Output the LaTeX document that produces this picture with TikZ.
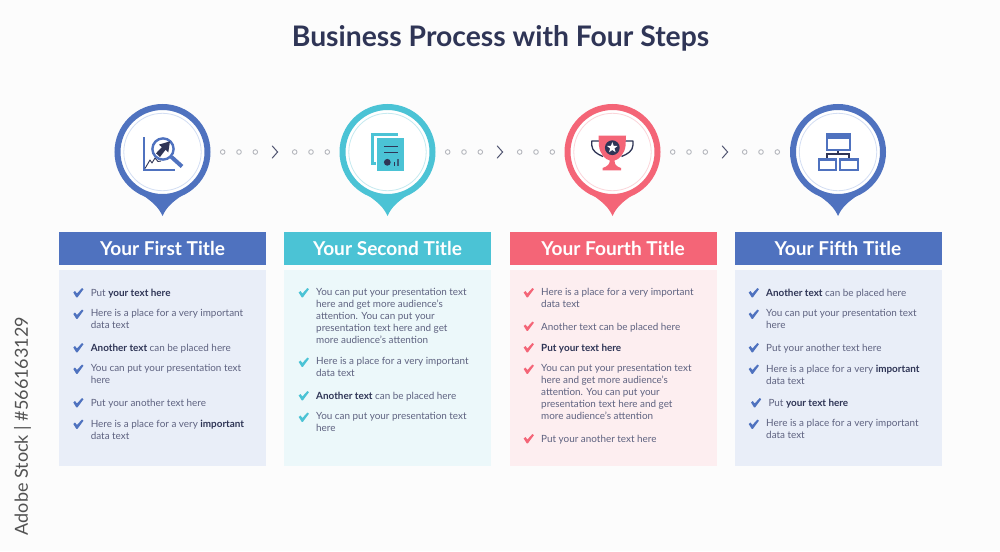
\documentclass[tikz,border=0pt]{standalone}
\usepackage{fontspec}
\setmainfont{Lato}
\usetikzlibrary{calc,shapes.geometric}
\definecolor{cblue}{HTML}{4F72BF}
\definecolor{cteal}{HTML}{4BC3D5}
\definecolor{cred}{HTML}{F46577}
\definecolor{bblue}{HTML}{E9EEF8}
\definecolor{bteal}{HTML}{ECF8FA}
\definecolor{bred}{HTML}{FDEEF0}
\definecolor{rblue}{HTML}{D3DEF3}
\definecolor{rteal}{HTML}{C5EAF0}
\definecolor{rred}{HTML}{FBD5DA}
\definecolor{cdark}{HTML}{2F3556}
\definecolor{cgray}{HTML}{5E6280}
\definecolor{cdot}{HTML}{B5B7BD}
\tikzset{
  x=1pt,y=-1pt,
  headbox/.style={fill=#1,minimum width=207pt,minimum height=33pt,inner sep=0pt,text=white,font=\fontsize{19.1}{21}\selectfont\bfseries},
  bodybox/.style={fill=#1,minimum width=207pt,minimum height=196pt,inner sep=0pt},
  itemtext/.style={anchor=north west,inner sep=0pt,align=left,text=cgray,font=\fontsize{9.9}{12}\selectfont,execute at begin node=\strut},
  dotmark/.style={circle,draw=cdot,line width=0.9pt,fill=white,minimum size=4.6pt,inner sep=0pt},
  chevronline/.style={draw=cdark!85,line width=1pt,line cap=round,line join=miter},
}
\newcommand{\strongtxt}[1]{\textbf{\textcolor{cdark}{#1}}}
% \chkitem{name}{colour}{x}{y centre of first line}{text}
\newcommand{\chkitem}[5]{%
  \fill[#2] (#3-18,#4-0.5) -- (#3-16.3,#4-2) -- (#3-14.3,#4+0.5) -- (#3-9.3,#4-5) -- (#3-7.8,#4-3.8) -- (#3-13.8,#4+4.3) -- (#3-15,#4+4.3) -- cycle;
  \node[itemtext] (#1) at (#3-0.7,#4-5) {#5};
}
% \pin{name}{x}{ring}{thin ring}
\newcommand{\pin}[4]{%
  \fill[#3] (#2-20,195) .. controls (#2-10,202) and (#2-4,207) .. (#2,216) .. controls (#2+4,207) and (#2+10,202) .. (#2+20,195) -- cycle;
  \node[circle,draw=#3,line width=6pt,fill=white,minimum size=90pt,inner sep=0pt] (#1) at (#2,152) {};
  \draw[#4,line width=0.8pt] (#2,152) circle (38.7);
}
\begin{document}
\begin{tikzpicture}
\useasboundingbox (0,0) rectangle (1000,551);
\fill[white!99!black] (0,0) rectangle (1000,551);

\node[text=cdark,font=\fontsize{28.3}{32}\selectfont\bfseries] (title) at (500.5,38.5) {Business Process with Four Steps};

\node[rotate=90,text=black!68,font=\fontsize{18}{20}\selectfont] (credit) at (22.5,426) {Adobe Stock | \#566163129};

% pins
\pin{pinA}{162.5}{cblue}{rblue}
\pin{pinB}{387.5}{cteal}{rteal}
\pin{pinC}{612.5}{cred}{rred}
\pin{pinD}{838}{cblue}{rblue}

% icon 1: chart and magnifier
\draw[cblue,line width=1.7pt] (144,137) -- (144,170) -- (175,170);
\draw[cdark,line width=0.9pt,line join=round] (145,168.5) -- (150,160) -- (152,163) -- (155,158) -- (158,161.5) -- (161,161);
\draw[cblue,line width=4pt] (171.5,157) -- (182,166.5);
\draw[cblue,line width=2.4pt,fill=white] (163,149) circle (10.6);
\fill[cdark] (156,153.3) -- (161.8,147.2) -- (159,144.6) -- (170,141.3) -- (168.3,152.3) -- (165.5,149.8) -- (160,157) -- cycle;

% icon 2: documents
\fill[cteal] (370.7,132.7) rectangle (397.7,165);
\fill[white] (373.7,135.7) rectangle (397.7,162);
\fill[white] (376,137.3) rectangle (405,171.4);
\fill[cteal] (376.7,138) rectangle (404.3,170.7);
\draw[cdark,line width=1.2pt] (384,146.7) -- (397.7,146.7);
\draw[cdark,line width=1.2pt] (384,152.3) -- (397.7,152.3);
\fill[cdark] (387.3,162.3) circle (3.4);
\fill[cdark] (393.6,162) rectangle (395.2,165.5);
\fill[cdark!70!cteal] (397.2,158.5) rectangle (398.8,165.5);

% icon 3: trophy
\draw[cdark,line width=1.3pt,line join=round] (599,141) -- (591.7,141) -- (591.7,145) .. controls (592,151) and (597,154) .. (603,156.5);
\draw[cdark,line width=1.3pt,line join=round] (625,141) -- (633,141) -- (633,145) .. controls (632.7,151) and (627.7,154) .. (621.5,156.5);
\fill[cred] (598.5,135.7) -- (626,135.7) -- (625.5,146) .. controls (624.5,154) and (619,159.5) .. (614.6,160.5) .. controls (614.4,164) and (616,166.5) .. (621,168) -- (621,170.4) -- (602.5,170.4) -- (602.5,168) .. controls (607.5,166.5) and (609.8,164) .. (609.8,160.5) .. controls (605,159.5) and (600,154) .. (599,146) -- cycle;
\fill[cdark] (612.3,147.7) circle (7.4);
\node[star,star points=5,star point ratio=2.4,fill=white,minimum size=11pt,inner sep=0pt] (trophystar) at (612.3,147.7) {};

% icon 4: hierarchy
\draw[cdark,line width=1.1pt] (838,150.7) -- (838,154);
\draw[cdark,line width=1.1pt] (827,157.7) -- (827,154) -- (849,154) -- (849,157.7);
\draw[cblue,line width=2pt,fill=white] (826.7,134.3) rectangle (849.7,149.7);
\fill[cblue] (825.7,133.3) rectangle (850.7,139);
\draw[cblue,line width=2pt,fill=white] (818.7,158.7) rectangle (835.9,169.7);
\fill[cblue] (817.7,157.7) rectangle (836.9,161);
\draw[cblue,line width=2pt,fill=white] (840.3,158.7) rectangle (857.5,169.7);
\fill[cblue] (839.3,157.7) rectangle (858.5,161);

% dots and chevrons
\foreach \o/\n in {0/a,225/b,450/c}{
  \foreach \d [count=\i] in {222.7,239,255.3,294.7,311,327.3}{
    \node[dotmark] (dot\n\i) at (\o+\d,152) {};
  }
  \draw[chevronline] (\o+272.3,146) -- (\o+277.6,152) -- (\o+272.3,158);
}

% headers and bodies
\node[headbox=cblue] (headA) at (162.5,248.5) {Your First Title};
\node[headbox=cteal] (headB) at (387.5,248.5) {Your Second Title};
\node[headbox=cred] (headC) at (613,248.5) {Your Fourth Title};
\node[headbox=cblue] (headD) at (838,248.5) {Your Fifth Title};
\node[bodybox=bblue] (bodyA) at (162.5,368) {};
\node[bodybox=bteal] (bodyB) at (387.5,368) {};
\node[bodybox=bred] (bodyC) at (613,368) {};
\node[bodybox=bblue] (bodyD) at (838,368) {};

% column 1
\chkitem{a1}{cblue}{91.3}{293}{Put \strongtxt{your text here}}
\chkitem{a2}{cblue}{91.3}{314.5}{Here is a place for a very important\\data text}
\chkitem{a3}{cblue}{91.3}{348}{\strongtxt{Another text} can be placed here}
\chkitem{a4}{cblue}{91.3}{369.5}{You can put your presentation text\\here}
\chkitem{a5}{cblue}{91.3}{403}{Put your another text here}
\chkitem{a6}{cblue}{91.3}{424.5}{Here is a place for a very \strongtxt{important}\\data text}
% column 2
\chkitem{b1}{cteal}{316.7}{293}{You can put your presentation text\\here and get more audience's\\attention. You can put your\\presentation text here and get\\more audience's attention}
\chkitem{b2}{cteal}{316.7}{362.5}{Here is a place for a very important\\data text}
\chkitem{b3}{cteal}{316.7}{396}{\strongtxt{Another text} can be placed here}
\chkitem{b4}{cteal}{316.7}{417.5}{You can put your presentation text\\here}
% column 3
\chkitem{c1}{cred}{541.7}{293}{Here is a place for a very important\\data text}
\chkitem{c2}{cred}{541.7}{326.5}{Another text can be placed here}
\chkitem{c3}{cred}{541.7}{348}{\strongtxt{Put your text here}}
\chkitem{c4}{cred}{541.7}{369.5}{You can put your presentation text\\here and get more audience's\\attention. You can put your\\presentation text here and get\\more audience's attention}
\chkitem{c5}{cred}{541.7}{439}{Put your another text here}
% column 4
\chkitem{d1}{cblue}{766.7}{293}{\strongtxt{Another text} can be placed here}
\chkitem{d2}{cblue}{766.7}{314.5}{You can put your presentation text\\here}
\chkitem{d3}{cblue}{766.7}{348}{Put your another text here}
\chkitem{d4}{cblue}{766.7}{369.5}{Here is a place for a very \strongtxt{important}\\data text}
\chkitem{d5}{cblue}{769}{403}{Put \strongtxt{your text here}}
\chkitem{d6}{cblue}{766.7}{424.5}{Here is a place for a very important\\data text}
\end{tikzpicture}
\end{document}
